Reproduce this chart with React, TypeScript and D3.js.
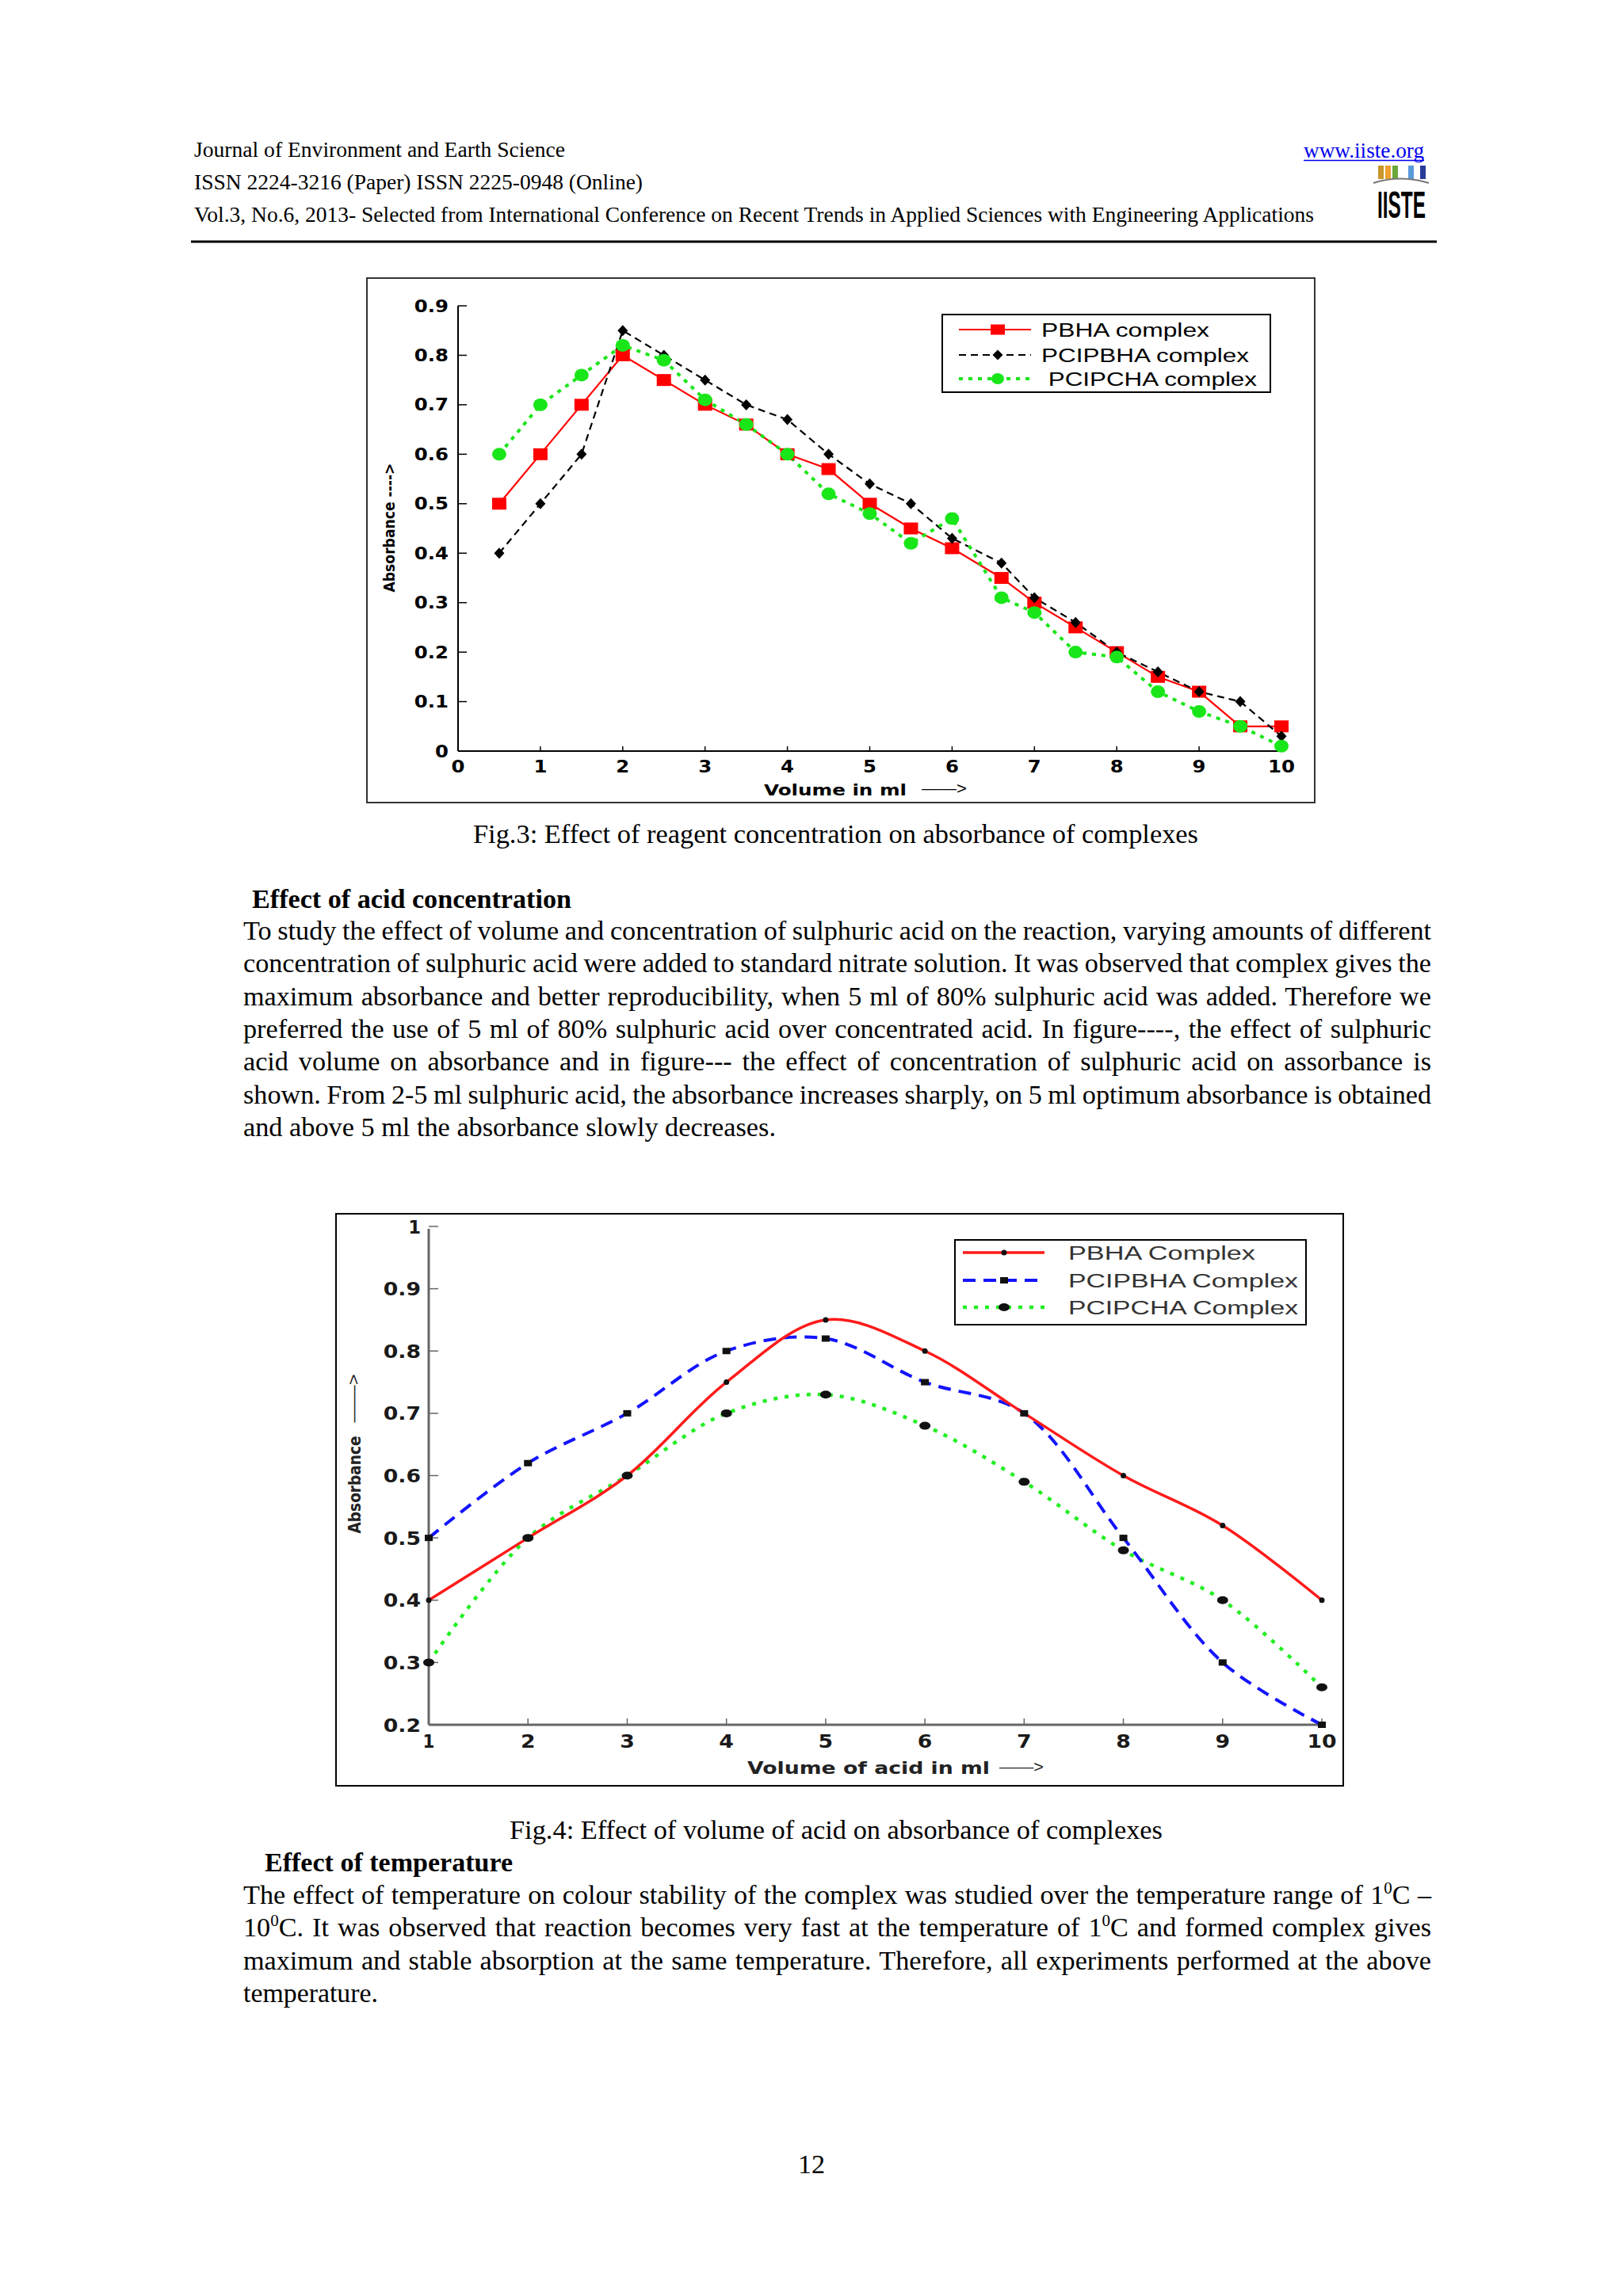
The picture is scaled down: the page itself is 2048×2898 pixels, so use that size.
import React, { useLayoutEffect, useRef } from "react";
import * as d3 from "d3";

const W = 2048;
const H = 2898;

// ---------- page text ----------
const headerLines = [
  "Journal of Environment and Earth Science",
  "ISSN 2224-3216 (Paper) ISSN 2225-0948 (Online)",
  "Vol.3, No.6, 2013- Selected from International Conference on Recent Trends in Applied Sciences with Engineering Applications",
];
const headerWidths = [468, 566, 1413];
const siteLink = "www.iiste.org";

const fig3Caption = "Fig.3: Effect of reagent concentration on absorbance of complexes";
const heading1 = "Effect of acid concentration";
const para1 = [
  "To study the effect of volume and concentration of sulphuric acid on the reaction, varying amounts of different",
  "concentration of sulphuric acid were added to standard nitrate solution. It was observed that complex gives the",
  "maximum absorbance and better reproducibility, when 5 ml of 80% sulphuric acid was added. Therefore we",
  "preferred the use of 5 ml of 80% sulphuric acid over concentrated acid. In figure----, the effect of sulphuric",
  "acid volume on absorbance and in figure--- the effect of concentration of sulphuric acid on assorbance is",
  "shown. From 2-5 ml sulphuric acid, the absorbance increases sharply, on 5 ml optimum absorbance is obtained",
  "and above 5 ml the absorbance slowly decreases.",
];
const fig4Caption = "Fig.4: Effect of volume of acid on absorbance of complexes";
const heading2 = "Effect of temperature";
const pageNumber = "12";

// ---------- Fig.3 data ----------
const fig3X = [0.5, 1, 1.5, 2, 2.5, 3, 3.5, 4, 4.5, 5, 5.5, 6, 6.6, 7, 7.5, 8, 8.5, 9, 9.5, 10];
const fig3PBHA = [0.5, 0.6, 0.7, 0.8, 0.75, 0.7, 0.66, 0.6, 0.57, 0.5, 0.45, 0.41, 0.35, 0.3, 0.25, 0.2, 0.15, 0.12, 0.05, 0.05];
const fig3PCIPBHA = [0.4, 0.5, 0.6, 0.85, 0.8, 0.75, 0.7, 0.67, 0.6, 0.54, 0.5, 0.43, 0.38, 0.31, 0.26, 0.2, 0.16, 0.12, 0.1, 0.03];
const fig3PCIPCHA = [0.6, 0.7, 0.76, 0.82, 0.79, 0.71, 0.66, 0.6, 0.52, 0.48, 0.42, 0.47, 0.31, 0.28, 0.2, 0.19, 0.12, 0.08, 0.05, 0.01];
const fig3XTicks = [0, 1, 2, 3, 4, 5, 6, 7, 8, 9, 10];
const fig3YTicks = [0, 0.1, 0.2, 0.3, 0.4, 0.5, 0.6, 0.7, 0.8, 0.9];
const fig3Legend = ["PBHA complex", "PCIPBHA complex", " PCIPCHA complex"];

// ---------- Fig.4 data ----------
const fig4X = [1, 2, 3, 4, 5, 6, 7, 8, 9, 10];
const fig4PBHA = [0.4, 0.5, 0.6, 0.75, 0.85, 0.8, 0.7, 0.6, 0.52, 0.4];
const fig4PCIPBHA = [0.5, 0.62, 0.7, 0.8, 0.82, 0.75, 0.7, 0.5, 0.3, 0.2];
const fig4PCIPCHA = [0.3, 0.5, 0.6, 0.7, 0.73, 0.68, 0.59, 0.48, 0.4, 0.26];
const fig4XTicks = [1, 2, 3, 4, 5, 6, 7, 8, 9, 10];
const fig4YTicks = [0.2, 0.3, 0.4, 0.5, 0.6, 0.7, 0.8, 0.9, 1];
const fig4Legend = ["PBHA Complex", "PCIPBHA Complex", "PCIPCHA Complex"];

const SERIF = "'Liberation Serif', 'Times New Roman', serif";
const SANS = "'Liberation Sans', Arial, sans-serif";
const BOLDNUM = "'DejaVu Sans', sans-serif";

// natural width of a numeric label in DejaVu Sans Bold
function numW(s: string, fs: number) {
  let w = 0;
  for (const c of s) w += c === "." ? 0.38 : 0.696;
  return w * fs;
}
function fmt(t: number) {
  return t === 0 ? "0" : Number.isInteger(t) ? String(t) : t.toFixed(1);
}

function Fig3() {
  const x = d3.scaleLinear().domain([0, 10]).range([578, 1617]);
  const y = d3.scaleLinear().domain([0, 0.9]).range([948, 386]);
  const mk = (vals: number[]) =>
    d3.line<number>().x((_, i) => x(fig3X[i])).y((d) => y(d))(vals) || "";
  const fs = 21;
  const st = 1.16;
  const red = "#ff0000";
  const green = "#19e619";
  const legRows = [416, 448, 478];
  const legText = [1314, 1314, 1314];
  const legLen = [212, 262, 272];
  return (
    <g>
      <rect x={463} y={351} width={1196} height={662} fill="none" stroke="#333" strokeWidth={2} />
      <line x1={x(0)} x2={x(0)} y1={y(0.9)} y2={y(0)} stroke="#000" strokeWidth={2} />
      <line x1={x(0)} x2={x(10)} y1={y(0)} y2={y(0)} stroke="#000" strokeWidth={2} />
      {fig3YTicks.map((t) => (
        <g key={"y" + t}>
          <line x1={x(0)} x2={x(0) + 11} y1={y(t)} y2={y(t)} stroke="#000" strokeWidth={1.5} />
          <text x={566} y={y(t) + 7.5} textAnchor="end" fontFamily={BOLDNUM} fontWeight="bold" fontSize={fs}
            textLength={numW(fmt(t), fs) * st} lengthAdjust="spacingAndGlyphs">{fmt(t)}</text>
        </g>
      ))}
      {fig3XTicks.map((t) => (
        <g key={"x" + t}>
          <line x1={x(t)} x2={x(t)} y1={y(0)} y2={y(0) - 6} stroke="#000" strokeWidth={1.5} />
          <text x={x(t)} y={975} textAnchor="middle" fontFamily={BOLDNUM} fontWeight="bold" fontSize={fs}
            textLength={numW(fmt(t), fs) * st} lengthAdjust="spacingAndGlyphs">{fmt(t)}</text>
        </g>
      ))}
      <text x={964} y={1004} fontFamily={BOLDNUM} fontWeight="bold" fontSize={20} textLength={180} lengthAdjust="spacingAndGlyphs">Volume in ml</text>
      <text x={1163} y={1002} fontFamily={SANS} fontSize={20} textLength={57} lengthAdjust="spacingAndGlyphs">——&gt;</text>
      <text transform="translate(498,666) rotate(-90)" textAnchor="middle" fontFamily={BOLDNUM} fontWeight="bold" fontSize={20}
        textLength={163} lengthAdjust="spacingAndGlyphs">Absorbance ----&gt;</text>

      <path d={mk(fig3PBHA)} fill="none" stroke={red} strokeWidth={2.2} />
      <path d={mk(fig3PCIPBHA)} fill="none" stroke="#000" strokeWidth={2.2} strokeDasharray="9 6" />
      <path d={mk(fig3PCIPCHA)} fill="none" stroke={green} strokeWidth={4} strokeDasharray="5 7" />
      {fig3PBHA.map((v, i) => (
        <rect key={"r" + i} x={x(fig3X[i]) - 9} y={y(v) - 7.5} width={18} height={15} fill={red} />
      ))}
      {fig3PCIPBHA.map((v, i) => (
        <path key={"b" + i} transform={`translate(${x(fig3X[i])},${y(v)})`} d="M0,-7 L6.5,0 L0,7 L-6.5,0 Z" fill="#000" />
      ))}
      {fig3PCIPCHA.map((v, i) => (
        <ellipse key={"g" + i} cx={x(fig3X[i])} cy={y(v)} rx={9} ry={8} fill={green} />
      ))}

      <rect x={1189} y={397} width={414} height={98} fill="#fff" stroke="#000" strokeWidth={2} />
      <line x1={1210} x2={1301} y1={legRows[0]} y2={legRows[0]} stroke={red} strokeWidth={2.2} />
      <rect x={1250} y={legRows[0] - 6.5} width={18} height={13} fill={red} />
      <line x1={1210} x2={1301} y1={legRows[1]} y2={legRows[1]} stroke="#000" strokeWidth={2.2} strokeDasharray="9 6" />
      <path transform={`translate(1259,${legRows[1]})`} d="M0,-6.5 L6.5,0 L0,6.5 L-6.5,0 Z" fill="#000" />
      <line x1={1210} x2={1301} y1={legRows[2]} y2={legRows[2]} stroke={green} strokeWidth={4} strokeDasharray="5 7" />
      <ellipse cx={1259} cy={legRows[2]} rx={8} ry={7} fill={green} />
      {fig3Legend.map((s, i) => (
        <text key={s} x={legText[i]} y={legRows[i] + 8.5} fontFamily={SANS} fontSize={23} textLength={legLen[i]}
          lengthAdjust="spacingAndGlyphs" xmlSpace="preserve">{s}</text>
      ))}
    </g>
  );
}

function Fig4() {
  const x = d3.scaleLinear().domain([1, 10]).range([541, 1668]);
  const y = d3.scaleLinear().domain([0.2, 1]).range([2177, 1548]);
  const smooth = (vals: number[]) =>
    d3.line<number>().x((_, i) => x(fig4X[i])).y((d) => y(d)).curve(d3.curveCatmullRom.alpha(0.5))(vals) || "";
  const fs = 23;
  const st = 1.16;
  const red = "#ff1a1a";
  const blue = "#1414ff";
  const green = "#22ee22";
  const legRows = [1581, 1616, 1650];
  const legLen = [236, 290, 290];
  return (
    <g>
      <rect x={424} y={1532} width={1271} height={722} fill="none" stroke="#000" strokeWidth={2} />
      <line x1={x(1)} x2={x(1)} y1={y(1) + 3} y2={y(0.2)} stroke="#666" strokeWidth={3} />
      <line x1={x(1)} x2={x(10)} y1={y(0.2)} y2={y(0.2)} stroke="#666" strokeWidth={3} />
      {fig4YTicks.map((t) => (
        <g key={"y" + t}>
          <line x1={x(1)} x2={x(1) + 12} y1={y(t)} y2={y(t)} stroke="#666" strokeWidth={1.5} />
          <text x={531} y={y(t) + 8.5} textAnchor="end" fontFamily={BOLDNUM} fontWeight="bold" fontSize={fs} fill="#1a1a1a"
            textLength={numW(fmt(t), fs) * st * (fmt(t) === "1" ? 0.85 : 1)} lengthAdjust="spacingAndGlyphs">{fmt(t)}</text>
        </g>
      ))}
      {fig4XTicks.map((t) => (
        <g key={"x" + t}>
          <line x1={x(t)} x2={x(t)} y1={y(0.2)} y2={y(0.2) - 8} stroke="#666" strokeWidth={1.5} />
          <text x={x(t)} y={2206} textAnchor="middle" fontFamily={BOLDNUM} fontWeight="bold" fontSize={fs} fill="#1a1a1a"
            textLength={numW(fmt(t), fs) * st * (fmt(t) === "1" ? 0.8 : 1)} lengthAdjust="spacingAndGlyphs">{fmt(t)}</text>
        </g>
      ))}
      <text x={943} y={2239} fontFamily={BOLDNUM} fontWeight="bold" fontSize={22} fill="#222" textLength={306} lengthAdjust="spacingAndGlyphs">Volume of acid in ml</text>
      <text x={1261} y={2237} fontFamily={SANS} fontSize={20} fill="#222" textLength={56} lengthAdjust="spacingAndGlyphs">——&gt;</text>
      <text transform="translate(455,1874) rotate(-90)" textAnchor="middle" fontFamily={BOLDNUM} fontWeight="bold" fontSize={21} fill="#222"
        textLength={123} lengthAdjust="spacingAndGlyphs">Absorbance</text>
      <text transform="translate(453,1765) rotate(-90)" textAnchor="middle" fontFamily={SANS} fontSize={20} fill="#222"
        textLength={61} lengthAdjust="spacingAndGlyphs">——&gt;</text>

      <path d={smooth(fig4PCIPCHA)} fill="none" stroke={green} strokeWidth={4.5} strokeDasharray="5 9" />
      <path d={smooth(fig4PCIPBHA)} fill="none" stroke={blue} strokeWidth={4} strokeDasharray="16 10" />
      <path d={smooth(fig4PBHA)} fill="none" stroke={red} strokeWidth={3.5} />
      {fig4PBHA.map((v, i) => (
        <circle key={"r" + i} cx={x(fig4X[i])} cy={y(v)} r={3.5} fill="#111" />
      ))}
      {fig4PCIPBHA.map((v, i) => (
        <rect key={"b" + i} x={x(fig4X[i]) - 5} y={y(v) - 4} width={10} height={8} fill="#111" />
      ))}
      {fig4PCIPCHA.map((v, i) => (
        <ellipse key={"g" + i} cx={x(fig4X[i])} cy={y(v)} rx={7} ry={5} fill="#111" />
      ))}

      <rect x={1205} y={1565} width={443} height={107} fill="#fff" stroke="#000" strokeWidth={2} />
      <line x1={1215} x2={1318} y1={legRows[0]} y2={legRows[0]} stroke={red} strokeWidth={3.5} />
      <circle cx={1267} cy={legRows[0]} r={3.5} fill="#111" />
      <line x1={1215} x2={1318} y1={legRows[1]} y2={legRows[1]} stroke={blue} strokeWidth={4} strokeDasharray="16 10" />
      <rect x={1262} y={legRows[1] - 4} width={10} height={8} fill="#111" />
      <line x1={1215} x2={1318} y1={legRows[2]} y2={legRows[2]} stroke={green} strokeWidth={4.5} strokeDasharray="5 9" />
      <ellipse cx={1267} cy={legRows[2]} rx={7} ry={5} fill="#111" />
      {fig4Legend.map((s, i) => (
        <text key={s} x={1348} y={legRows[i] + 8.5} fontFamily={SANS} fontSize={23} fill="#333" textLength={legLen[i]}
          lengthAdjust="spacingAndGlyphs">{s}</text>
      ))}
    </g>
  );
}

function Logo() {
  return (
    <g>
      <rect x={1739} y={209} width={7} height={17} fill="#c8962a" />
      <rect x={1748} y={209} width={7} height={17} fill="#f0a030" />
      <rect x={1757} y={209} width={7} height={17} fill="#6aa83a" />
      <rect x={1777} y={209} width={7} height={17} fill="#5a9ad8" />
      <rect x={1792} y={209} width={7} height={17} fill="#2a3a98" />
      <path d="M1733,231 Q1768,220 1803,231" fill="none" stroke="#777" strokeWidth={2} />
      <text x={1738} y={275} fontFamily={SANS} fontWeight="bold" fontSize={48} textLength={61} lengthAdjust="spacingAndGlyphs">IISTE</text>
    </g>
  );
}

export default function App() {
  const ref = useRef<SVGSVGElement>(null);
  useLayoutEffect(() => {
    const run = () => {
      const svg = ref.current;
      if (!svg) return;
      svg.querySelectorAll("text[data-justify]").forEach((node) => {
        const el = node as SVGTextElement;
        const target = Number(el.getAttribute("data-justify"));
        el.style.wordSpacing = "0px";
        const w = el.getComputedTextLength();
        const spaces = (el.textContent || "").split(" ").length - 1;
        if (spaces > 0) el.style.wordSpacing = `${(target - w) / spaces}px`;
      });
    };
    run();
    const f = (document as any).fonts;
    if (f && f.ready) f.ready.then(run);
  }, []);

  const bodyFs = 34.2;
  const lead = 41.3;
  const left = 307;
  const justW = 1499;
  const p1y = 1186;
  const p2y = 2403;
  const sup = (s: string) => <tspan dy={-13} fontSize={21}>{s}</tspan>;

  return (
    <div style={{ position: "absolute", left: 0, top: 0, width: W, height: H, background: "#fff" }}>
      <svg ref={ref} width={W} height={H} viewBox={`0 0 ${W} ${H}`} style={{ display: "block" }}>
        <rect width={W} height={H} fill="#fff" />
        {headerLines.map((s, i) => (
          <text key={i} x={245} y={198 + i * 41} fontFamily={SERIF} fontSize={27.4} textLength={headerWidths[i]}
            lengthAdjust="spacingAndGlyphs">{s}</text>
        ))}
        <text x={1645} y={199} fontFamily={SERIF} fontSize={27.4} fill="#0000ee"
          textLength={152} lengthAdjust="spacingAndGlyphs">{siteLink}</text>
        <line x1={1645} x2={1797} y1={202.5} y2={202.5} stroke="#0000ee" strokeWidth={1.5} />
        <Logo />
        <line x1={241} x2={1813} y1={305} y2={305} stroke="#000" strokeWidth={3} />

        <Fig3 />
        <text x={597} y={1064} fontFamily={SERIF} fontSize={bodyFs} textLength={915} lengthAdjust="spacingAndGlyphs">{fig3Caption}</text>
        <text x={318} y={1146} fontFamily={SERIF} fontWeight="bold" fontSize={bodyFs} textLength={403} lengthAdjust="spacingAndGlyphs">{heading1}</text>
        {para1.map((s, i) =>
          i < para1.length - 1 ? (
            <text key={i} x={left} y={p1y + i * lead} fontFamily={SERIF} fontSize={bodyFs} data-justify={justW}>{s}</text>
          ) : (
            <text key={i} x={left} y={p1y + i * lead} fontFamily={SERIF} fontSize={bodyFs} textLength={672} lengthAdjust="spacingAndGlyphs">{s}</text>
          )
        )}

        <Fig4 />
        <text x={643} y={2321} fontFamily={SERIF} fontSize={bodyFs} textLength={824} lengthAdjust="spacingAndGlyphs">{fig4Caption}</text>
        <text x={334} y={2362} fontFamily={SERIF} fontWeight="bold" fontSize={bodyFs} textLength={313} lengthAdjust="spacingAndGlyphs">{heading2}</text>
        <text x={left} y={p2y} fontFamily={SERIF} fontSize={bodyFs} data-justify={justW}>
          The effect of temperature on colour stability of the complex was studied over the temperature range of 1{sup("0")}<tspan dy={13}>C –</tspan>
        </text>
        <text x={left} y={p2y + lead} fontFamily={SERIF} fontSize={bodyFs} data-justify={justW}>
          10{sup("0")}<tspan dy={13}>C. It was observed that reaction becomes very fast at the temperature of 1</tspan>{sup("0")}<tspan dy={13}>C and formed complex gives</tspan>
        </text>
        <text x={left} y={p2y + 2 * lead} fontFamily={SERIF} fontSize={bodyFs} data-justify={justW}>
          maximum and stable absorption at the same temperature. Therefore, all experiments performed at the above
        </text>
        <text x={left} y={p2y + 3 * lead} fontFamily={SERIF} fontSize={bodyFs} textLength={170} lengthAdjust="spacingAndGlyphs">temperature.</text>

        <text x={1024} y={2743} textAnchor="middle" fontFamily={SERIF} fontSize={bodyFs}>{pageNumber}</text>
      </svg>
    </div>
  );
}
